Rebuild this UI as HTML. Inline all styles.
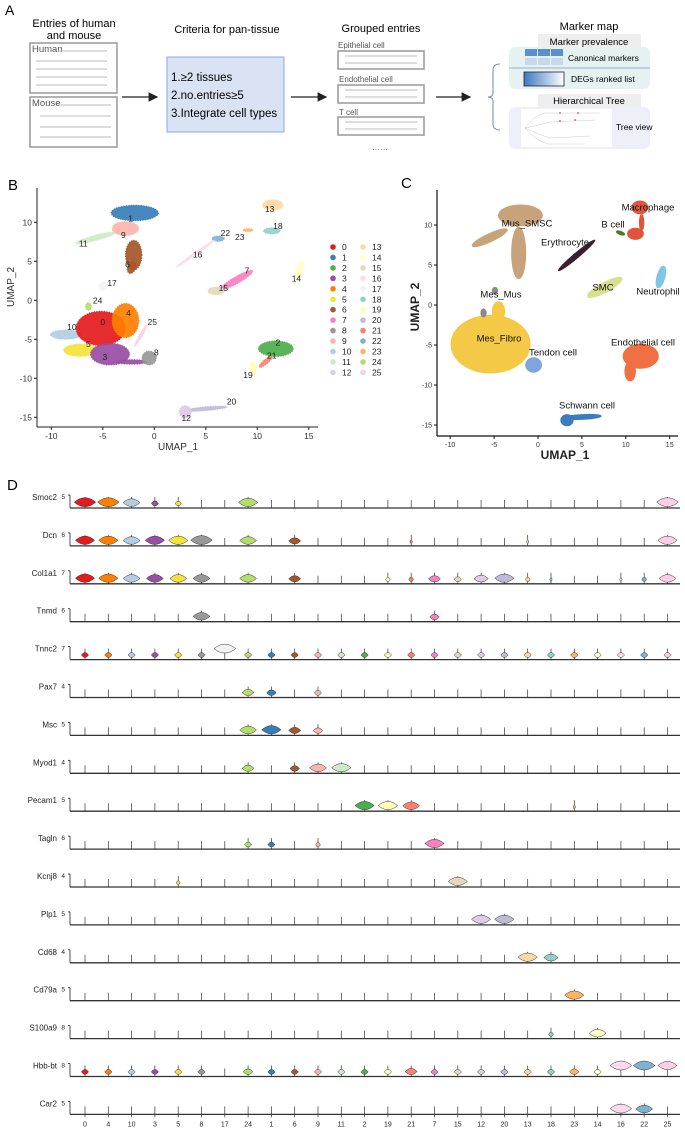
<!DOCTYPE html>
<html><head><meta charset="utf-8"><style>
html,body{margin:0;padding:0;background:#fff;}
svg{display:block;font-family:"Liberation Sans",Arial,sans-serif;}
</style></head><body>
<svg id="fig" width="685" height="1135" viewBox="0 0 685 1135" xmlns="http://www.w3.org/2000/svg">
<defs>
<marker id="ah" markerWidth="8" markerHeight="8" refX="7" refY="4" orient="auto"><path d="M0,0 L8,4 L0,8 z" fill="#222"/></marker>
<linearGradient id="deg" x1="0" x2="1"><stop offset="0" stop-color="#3d78bf"/><stop offset="1" stop-color="#ffffff"/></linearGradient>
</defs>
<!-- Panel A -->
<g>
<text x="5" y="15" font-size="14">A</text>
<text x="74" y="27" font-size="11" text-anchor="middle">Entries of human</text>
<text x="74" y="39" font-size="11" text-anchor="middle">and mouse</text>
<rect x="30" y="43" width="87" height="50" fill="#fff" stroke="#999" stroke-width="1.5"/>
<text x="32" y="52" font-size="9.5" fill="#555">Human</text>
<g stroke="#bbb" stroke-width="1"><line x1="58" y1="51" x2="107" y2="51"/><line x1="36" y1="61" x2="107" y2="61"/><line x1="36" y1="69" x2="107" y2="69"/><line x1="36" y1="77" x2="107" y2="77"/><line x1="36" y1="85" x2="107" y2="85"/></g>
<rect x="30" y="97" width="87" height="50" fill="#fff" stroke="#999" stroke-width="1.5"/>
<text x="32" y="106" font-size="9.5" fill="#555">Mouse</text>
<g stroke="#bbb" stroke-width="1"><line x1="58" y1="105" x2="111" y2="105"/><line x1="40" y1="116" x2="111" y2="116"/><line x1="40" y1="127" x2="111" y2="127"/><line x1="40" y1="137" x2="111" y2="137"/></g>
<line x1="122" y1="97" x2="157" y2="97" stroke="#222" stroke-width="1.2" marker-end="url(#ah)"/>
<text x="227" y="33" font-size="11" text-anchor="middle">Criteria for pan-tissue</text>
<rect x="167" y="57" width="117" height="75" fill="#dae3f3" stroke="#8faadc"/>
<text x="171" y="81" font-size="11.5">1.≥2 tissues</text>
<text x="171" y="99" font-size="11.5">2.no.entries≥5</text>
<text x="171" y="117" font-size="11.5">3.Integrate cell types</text>
<line x1="291" y1="97" x2="326" y2="97" stroke="#222" stroke-width="1.2" marker-end="url(#ah)"/>
<text x="381" y="32" font-size="11" text-anchor="middle">Grouped entries</text>
<text x="338" y="48" font-size="8" fill="#555">Epithelial cell</text>
<rect x="338" y="51" width="86" height="18" fill="#fff" stroke="#999" stroke-width="1.5"/>
<text x="339" y="82" font-size="8" fill="#555">Endothelial cell</text>
<rect x="338" y="85" width="86" height="18" fill="#fff" stroke="#999" stroke-width="1.5"/>
<text x="339" y="115" font-size="8" fill="#555">T cell</text>
<rect x="338" y="117" width="86" height="18" fill="#fff" stroke="#999" stroke-width="1.5"/>
<g stroke="#bbb"><line x1="345" y1="56" x2="417" y2="56"/><line x1="345" y1="63" x2="417" y2="63"/><line x1="345" y1="90" x2="417" y2="90"/><line x1="345" y1="97" x2="417" y2="97"/><line x1="345" y1="122" x2="417" y2="122"/><line x1="345" y1="129" x2="417" y2="129"/></g>
<text x="380" y="150" font-size="8" fill="#666" text-anchor="middle">……</text>
<line x1="436" y1="97" x2="470" y2="97" stroke="#222" stroke-width="1.2" marker-end="url(#ah)"/>
<path d="M500,64 Q493,64 493,70 L493,93 Q493,97 488,97 Q493,97 493,101 L493,124 Q493,130 500,130" fill="none" stroke="#6c8fb5" stroke-width="1"/>
<text x="589" y="30" font-size="11" text-anchor="middle">Marker map</text>
<rect x="509" y="47" width="141" height="42" rx="6" fill="#e6f2f1"/>
<line x1="509" y1="68" x2="650" y2="68" stroke="#6c9bc9" stroke-width="0.8"/>
<rect x="538" y="34" width="103" height="14" fill="#eeeeee"/>
<text x="589" y="45" font-size="9.5" text-anchor="middle">Marker prevalence</text>
<g fill="#5b8fd0"><rect x="525" y="49" width="12" height="7"/><rect x="538" y="49" width="12" height="7"/><rect x="551" y="49" width="12" height="7"/></g>
<g fill="#c9d7ec"><rect x="525" y="58" width="12" height="7"/><rect x="538" y="58" width="12" height="7"/><rect x="551" y="58" width="12" height="7"/></g>
<text x="568" y="61" font-size="8.5">Canonical markers</text>
<rect x="524" y="72" width="40" height="14" fill="url(#deg)" stroke="#223" stroke-width="0.8"/>
<text x="571" y="82" font-size="8.5">DEGs ranked list</text>
<rect x="538" y="94" width="103" height="13" fill="#eeeeee"/>
<text x="589" y="104" font-size="9.5" text-anchor="middle">Hierarchical Tree</text>
<rect x="509" y="107" width="141" height="42" rx="6" fill="#efeffa"/>
<rect x="521" y="109" width="91" height="38" fill="#fff"/>
<g stroke="#ccc" stroke-width="0.5" fill="none"><path d="M525,128 Q535,115 545,113 M525,128 Q540,125 550,122 M525,128 Q540,135 550,138 M525,128 Q535,140 548,144 M545,113 L600,113 M550,122 L595,120 M550,138 L590,136 M548,144 L585,144"/></g>
<g fill="#e04040"><circle cx="560" cy="113" r="0.9"/><circle cx="578" cy="113" r="0.9"/><circle cx="560" cy="121" r="0.9"/><circle cx="575" cy="120" r="0.9"/></g>
<text x="616" y="130" font-size="8.5">Tree view</text>
</g>
<g id="panelB"></g>
<g id="panelC"></g>
<g id="panelD"></g>
</svg>
<script>
const NS="http://www.w3.org/2000/svg";
const palette=["#e41a1c","#377eb8","#4daf4a","#984ea3","#ff7f00","#f5e33a","#a65628","#f781bf","#999999","#fbb4ae","#b3cde3","#ccebc5","#decbe4","#fed9a6","#ffffcc","#e5d8bd","#fddaec","#f2f2f2","#8dd3c7","#ffffb3","#bebada","#fb8072","#80b1d3","#fdb462","#b3de69","#fccde5"];
// Panel B cluster shapes
const bClusterIds=[11,1,9,6,6,17,24,10,0,4,5,3,3,8,25,22,23,13,18,16,14,7,15,2,21,19,20,12];
const bCx=[-5.7,-1.9,-2.8,-2.0,-2.2,-5.0,-6.4,-8.6,-5.2,-2.8,-7.2,-4.3,-2.2,-0.5,-1.3,6.2,9.1,11.5,11.4,4.0,14.1,8.0,6.0,11.8,10.8,9.6,5.0,3.0];
const bCy=[8.0,11.2,9.2,5.8,4.2,1.8,-0.8,-4.4,-3.6,-2.6,-6.4,-6.9,-7.9,-7.4,-4.5,7.9,9.0,12.2,8.9,6.0,3.8,2.6,1.2,-6.2,-7.9,-8.8,-13.9,-14.3];
const bRx=[2.0,2.3,1.3,0.8,0.4,0.4,0.3,1.5,2.4,1.3,1.6,1.9,1.5,0.7,0.15,0.6,0.5,1.0,0.8,2.3,0.4,1.8,0.8,1.7,0.8,0.3,2.1,0.6];
const bRy=[0.35,1.0,0.9,1.9,0.8,0.5,0.5,0.6,2.2,2.2,0.8,1.4,0.3,0.9,1.6,0.35,0.2,0.7,0.4,0.2,1.3,0.45,0.5,1.0,0.3,1.0,0.25,0.8];
const bAng=[-15,0,0,0,20,0,0,0,0,0,0,0,0,0,30,0,0,0,0,-35,15,-30,0,0,-40,0,-5,0];
const bLabelText=["1","9","11","6","17","24","4","0","10","5","3","8","25","22","23","13","18","16","7","15","14","2","21","19","20","12"];
const bLabelX=[-2.3,-3.0,-6.9,-2.6,-4.1,-5.5,-2.5,-5.0,-8.0,-6.4,-4.8,0.2,-0.2,6.9,8.3,11.2,12.0,4.2,9.0,6.7,13.8,12.0,11.4,9.1,7.5,3.1];
const bLabelY=[10.5,8.4,7.3,4.6,2.2,0.0,-1.6,-2.8,-3.4,-5.6,-7.3,-6.7,-2.8,8.6,8.1,11.7,9.5,5.9,3.8,1.6,2.8,-5.4,-7.1,-9.6,-13.0,-15.1];
const bTicksX=[-10,-5,0,5,10,15];
const bTicksY=[10,5,0,-5,-10,-15];
// Panel C cell types
const cNames=["Mus_SMSC","Mus_SMSC","Mus_SMSC","Mes_Fibro","Mes_Fibro","Mes_Mus","Mes_Mus","Tendon cell","Erythrocyte","B cell","Macrophage","Macrophage","Macrophage","SMC","Neutrophil","Endothelial cell","Endothelial cell","Schwann cell","Schwann cell"];
const cColors=["#c8a27a","#c8a27a","#c8a27a","#f3c945","#f3c945","#8a8a8a","#8a8a8a","#7ea6dc","#3a1f30","#4f7a2a","#e0553a","#e0553a","#e0553a","#d6e08e","#7ec8e3","#f07044","#f07044","#3a7dbd","#3a7dbd"];
const cCx=[-2.0,-5.5,-2.2,-5.4,-4.5,-6.2,-4.9,-0.5,4.4,9.4,11.6,11.8,11.1,7.6,14.0,11.7,10.5,5.0,3.3];
const cCy=[11.2,8.4,6.5,-4.9,-0.8,-1.0,1.8,-7.5,6.2,9.0,12.2,10.3,8.9,2.2,3.5,-6.4,-8.3,-14.0,-14.4];
const cRx=[2.5,2.2,0.8,4.5,0.7,0.3,0.3,0.9,2.7,0.5,0.9,0.25,0.9,2.2,0.45,2.0,0.6,2.2,0.7];
const cRy=[1.3,0.5,3.2,3.6,1.2,0.5,0.4,0.9,0.3,0.2,0.8,1.0,0.7,0.6,1.4,1.5,1.2,0.3,0.7];
const cAng=[0,-25,0,0,0,0,0,0,-40,20,0,0,0,-28,15,0,0,-3,0];
const cLabelText=["Mus_SMSC","Erythrocyte","B cell","Macrophage","Mes_Mus","SMC","Neutrophil","Mes_Fibro","Tendon cell","Endothelial cell","Schwann cell"];
const cLabelPx=[527,565,613,648,501,603,658,499,553,643,587];
const cLabelPy=[223,242,224,207,294,287,291,338,352,342,405];
const cTicksX=[-10,-5,0,5,10,15];
const cTicksY=[10,5,0,-5,-10,-15];
// Panel D
const dCategories=[0,4,10,3,5,8,17,24,1,6,9,11,2,19,21,7,15,12,20,13,18,23,14,16,22,25];
const dGenes=["Smoc2","Dcn","Col1a1","Tnmd","Tnnc2","Pax7","Msc","Myod1","Pecam1","Tagln","Kcnj8","Plp1","Cd68","Cd79a","S100a9","Hbb-bt","Car2"];
const dMax=[5,6,7,6,7,4,5,4,5,6,4,5,4,5,8,8,5];
const dSmoc2=[.9,.9,.7,.3,.25,0,0,.8,0,0,0,0,0,0,0,0,0,0,0,0,0,0,0,0,0,.9];
const dDcn=[.8,.8,.7,.8,.8,.9,0,.7,0,.5,0,0,0,0,.1,0,0,0,0,.1,0,0,0,0,0,.8];
const dCol1a1=[.8,.8,.7,.7,.7,.7,0,.7,0,.5,0,0,0,.2,.2,.5,.3,.6,.8,.2,.1,0,0,.1,.2,.7];
const dTnmd=[0,0,0,0,0,.7,0,0,0,0,0,0,0,0,0,.4,0,0,0,0,0,0,0,0,0,0];
const dTnnc2=[.3,.3,.3,.3,.3,.3,.9,.3,.3,.3,.3,.3,.3,.3,.3,.3,.3,.3,.3,.3,.3,.3,.3,.3,.3,.3];
const dPax7=[0,0,0,0,0,0,0,.5,.4,0,.3,0,0,0,0,0,0,0,0,0,0,0,0,0,0,0];
const dMsc=[0,0,0,0,0,0,0,.7,.8,.5,.4,0,0,0,0,0,0,0,0,0,0,0,0,0,0,0];
const dMyod1=[0,0,0,0,0,0,0,.5,0,.4,.7,.8,0,0,0,0,0,0,0,0,0,0,0,0,0,0];
const dPecam1=[0,0,0,0,0,0,0,0,0,0,0,0,.8,.8,.7,0,0,0,0,0,0,.1,0,0,0,0];
const dTagln=[0,0,0,0,0,0,0,.3,.3,0,.2,0,0,0,0,.8,0,0,0,0,0,0,0,0,0,0];
const dKcnj8=[0,0,0,0,.15,0,0,0,0,0,0,0,0,0,0,0,.8,0,0,0,0,0,0,0,0,0];
const dPlp1=[0,0,0,0,0,0,0,0,0,0,0,0,0,0,0,0,0,.8,.8,0,0,0,0,0,0,0];
const dCd68=[0,0,0,0,0,0,0,0,0,0,0,0,0,0,0,0,0,0,0,.8,.6,0,0,0,0,0];
const dCd79a=[0,0,0,0,0,0,0,0,0,0,0,0,0,0,0,0,0,0,0,0,0,.8,0,0,0,0];
const dS100a9=[0,0,0,0,0,0,0,0,0,0,0,0,0,0,0,0,0,0,0,0,.2,0,.7,0,0,0];
const dHbb=[.3,.3,.3,.3,.3,.3,0,.4,.3,.3,.3,.3,.3,.3,.5,.3,.3,.3,.3,.3,.3,.4,.3,.9,.9,.8];
const dCar2=[0,0,0,0,0,0,0,0,0,0,0,0,0,0,0,0,0,0,0,0,0,0,0,.9,.7,0];
const dValues=[dSmoc2,dDcn,dCol1a1,dTnmd,dTnnc2,dPax7,dMsc,dMyod1,dPecam1,dTagln,dKcnj8,dPlp1,dCd68,dCd79a,dS100a9,dHbb,dCar2];
const dTopGene=["Tnnc2","Hbb-bt","Hbb-bt","Hbb-bt"];
const dTopCat=[17,16,22,25];

function el(tag,attrs,parent,txt){const e=document.createElementNS(NS,tag);for(const k in attrs)e.setAttribute(k,attrs[k]);if(txt!==undefined)e.textContent=txt;parent.appendChild(e);return e;}

// ---- Panel B ----
const gB=document.getElementById('panelB');
const bx=v=>154.3+v*10.3, by=v=>300.3-v*7.8;
let t=el('text',{x:8,y:190,'font-size':15},gB,'B');


el('line',{x1:37,y1:188,x2:37,y2:427,stroke:'#222','stroke-width':1},gB);
el('line',{x1:37,y1:427,x2:318,y2:427,stroke:'#222','stroke-width':1},gB);
bTicksX.forEach(v=>{el('line',{x1:bx(v),y1:427,x2:bx(v),y2:430,stroke:'#222'},gB);
 const tt=el('text',{x:bx(v),y:439,'font-size':8.5,'text-anchor':'middle',fill:'#333'},gB,v);
 
 });
bTicksY.forEach(v=>{el('line',{x1:34,y1:by(v),x2:37,y2:by(v),stroke:'#222'},gB);
 const tt=el('text',{x:32,y:by(v)+3,'font-size':8.5,'text-anchor':'end',fill:'#333'},gB,v);
 
 });
t=el('text',{x:178,y:450,'font-size':10,'text-anchor':'middle',fill:'#333'},gB,'UMAP_1');


t=el('text',{x:14,y:287,'font-size':10,'text-anchor':'middle',fill:'#333',transform:'rotate(-90 14 287)'},gB,'UMAP_2');


bClusterIds.forEach((id,i)=>{const cx=bx(bCx[i]),cy=by(bCy[i]);
 const e=el('ellipse',{cx:cx,cy:cy,rx:bRx[i]*10.3,ry:bRy[i]*7.8,fill:palette[id],'fill-opacity':0.92,stroke:palette[id],'stroke-width':1,'stroke-dasharray':'1 1.5',transform:`rotate(${bAng[i]} ${cx} ${cy})`},gB);
 
 });
bLabelText.forEach((s,i)=>{const tt=el('text',{x:bx(bLabelX[i]),y:by(bLabelY[i])+3,'font-size':8.5,'text-anchor':'middle',fill:'#222'},gB,s);
 
 });
for(let k=0;k<26;k++){const col=k<13?0:1,row=k%13;const x=col?363:333,y=247+row*10.45;
 const c=el('circle',{cx:x,cy:y,r:2.8,fill:palette[k]},gB);
 
 
 const tt=el('text',{x:x+9,y:y+3,'font-size':8.5,fill:'#222'},gB,k);
 
 }

// ---- Panel C ----
const gC=document.getElementById('panelC');
const cx_=v=>538+v*8.78, cy_=v=>305-v*8;
t=el('text',{x:401,y:188,'font-size':15},gC,'C');


el('line',{x1:437,y1:190,x2:437,y2:436,stroke:'#111','stroke-width':1.2},gC);
el('line',{x1:437,y1:436,x2:678,y2:436,stroke:'#111','stroke-width':1.2},gC);
cTicksX.forEach(v=>{el('line',{x1:cx_(v),y1:436,x2:cx_(v),y2:439,stroke:'#111'},gC);
 const tt=el('text',{x:cx_(v),y:447,'font-size':7,'text-anchor':'middle',fill:'#333'},gC,v);
 
 });
cTicksY.forEach(v=>{el('line',{x1:434,y1:cy_(v),x2:437,y2:cy_(v),stroke:'#111'},gC);
 const tt=el('text',{x:432,y:cy_(v)+2.5,'font-size':7,'text-anchor':'end',fill:'#333'},gC,v);
 
 });
t=el('text',{x:565,y:459,'font-size':12,'font-weight':'bold','text-anchor':'middle',fill:'#222'},gC,'UMAP_1');


t=el('text',{x:419,y:307,'font-size':12,'font-weight':'bold','text-anchor':'middle',fill:'#222',transform:'rotate(-90 419 307)'},gC,'UMAP_2');


cNames.forEach((n,i)=>{const x=cx_(cCx[i]),y=cy_(cCy[i]);
 const e=el('ellipse',{cx:x,cy:y,rx:cRx[i]*8.78,ry:cRy[i]*8,fill:cColors[i],stroke:cColors[i],'stroke-width':1,transform:`rotate(${cAng[i]} ${x} ${y})`},gC);
 
 });
cLabelText.forEach((s,i)=>{const tt=el('text',{x:cLabelPx[i],y:cLabelPy[i]+3.5,'font-size':9.5,'text-anchor':'middle',fill:'#111'},gC,s);
 
 });

// ---- Panel D ----
const gD=document.getElementById('panelD');
t=el('text',{x:7,y:490,'font-size':15},gD,'D');


const dx=i=>85+i*23.3, rowBase=r=>508+r*37.9;
dGenes.forEach((g,r)=>{const yb=rowBase(r);
 const tt=el('text',{x:57,y:yb-8,'font-size':8,'text-anchor':'end',fill:'#222'},gD,g);
 
 
 el('text',{x:65,y:yb-9,'font-size':6.5,'text-anchor':'end',fill:'#222'},gD,dMax[r]);
 el('line',{x1:70,y1:yb,x2:70,y2:yb-13,stroke:'#222','stroke-width':0.8},gD);
 el('line',{x1:68,y1:yb-13,x2:70,y2:yb-13,stroke:'#222','stroke-width':0.8},gD);
 el('line',{x1:70,y1:yb,x2:680,y2:yb,stroke:'#333','stroke-width':1.3},gD);
 dValues[r].forEach((v,i)=>{const cat=dCategories[i],x=dx(i);
  let top=false;for(let k=0;k<dTopGene.length;k++)if(dTopGene[k]===g&&dTopCat[k]===cat)top=true;
  el('line',{x1:x,y1:yb,x2:x,y2:yb-(top?10:(v>0?11:8)),stroke:'#333','stroke-width':0.7},gD);
  if(v>0){const w=v*12,h=2+v*4,c=top?yb-11:yb-4-v*2;
   const p=el('path',{d:`M${x-w},${c} Q${x},${c-h*1.6} ${x+w},${c} Q${x},${c+h*1.6} ${x-w},${c}Z`,fill:palette[cat],stroke:'#333','stroke-width':0.5},gD);
   
   }
 });
});
const yAx=rowBase(16);
dCategories.forEach((c,i)=>{const x=dx(i);
 el('line',{x1:x,y1:yAx,x2:x,y2:yAx+3,stroke:'#333','stroke-width':0.7},gD);
 const tt=el('text',{x:x,y:yAx+12,'font-size':7,'text-anchor':'middle',fill:'#222'},gD,c);
 
 });
</script>
</body></html>
